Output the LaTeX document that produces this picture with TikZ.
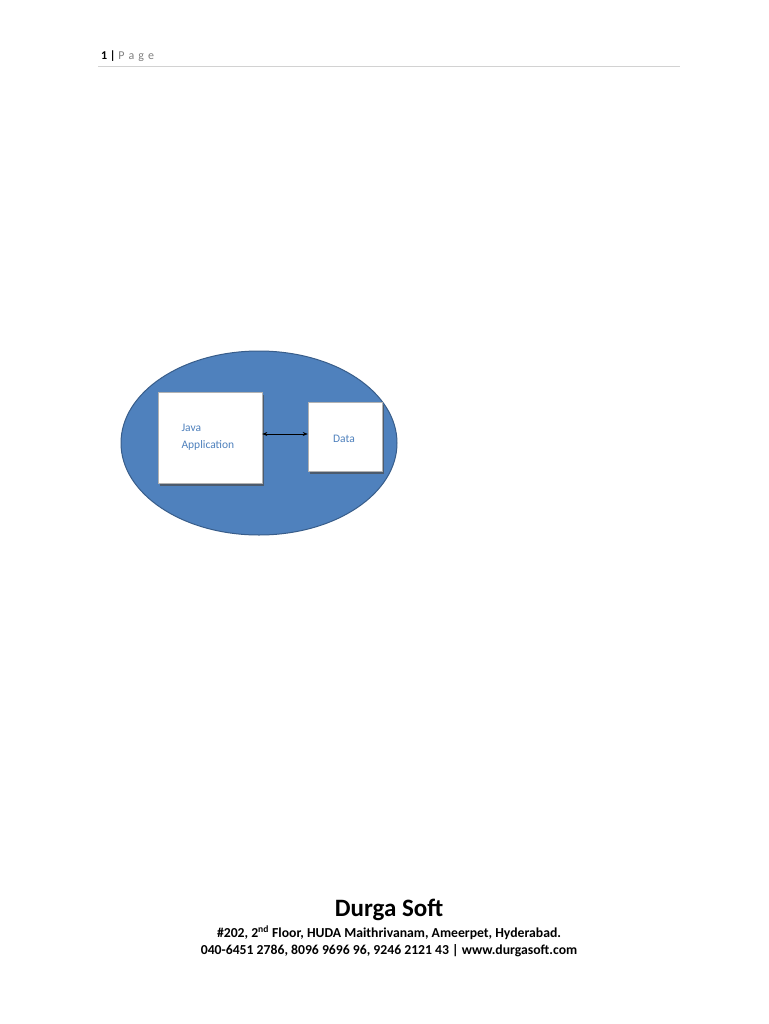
\documentclass[tikz,border=0pt]{standalone}
\usepackage{fontspec}
\setmainfont{Carlito}
\usetikzlibrary{shadows,arrows.meta,shapes.geometric}
\definecolor{ovalblue}{HTML}{4F81BD}
\definecolor{ovaledge}{HTML}{385D8A}
\definecolor{textblue}{HTML}{4F81BD}
\tikzset{
  whitebox/.style={draw=gray!60,fill=white,line width=0.6pt,
    drop shadow={shadow xshift=2pt,shadow yshift=-2.5pt,fill=black!70,opacity=0.7}},
  boxtext/.style={textblue,font=\fontsize{11.5}{17}\selectfont,align=left,anchor=west}
}
\begin{document}
\begin{tikzpicture}[x=1pt,y=-1pt]
      \useasboundingbox[fill=white] (0,0) rectangle (768,1024);
      % header
      \node[anchor=base west,inner sep=0pt,font=\fontsize{12}{14}\selectfont] (pagenum) at (101,60)
        {\textbf{1 |} \textcolor{gray}{P\,\,a\,\,g\,\,e}};
      \coordinate (ruleleft) at (98,66);
      \coordinate (ruleright) at (680,66);
      \draw[gray!35,line width=0.8pt] (ruleleft) -- (ruleright);
      % oval with the two boxes
      \node[ellipse,draw=ovaledge,fill=ovalblue,line width=1pt,minimum width=276,minimum height=184,inner sep=0pt] (oval) at (259,443) {};
      \node[whitebox,minimum width=104,minimum height=91,inner sep=0pt] (javaapp) at (210,437.5) {};
      \node[boxtext] (javalabel) at (178,437) {Java\\Application};
      \node[whitebox,minimum width=74,minimum height=69,inner sep=0pt] (data) at (345,436.5) {};
      \node[textblue,font=\fontsize{11.5}{14}\selectfont] (datalabel) at (344,439) {Data};
      \draw[{Stealth[length=5pt,width=4pt]}-{Stealth[length=5pt,width=4pt]},line width=0.5pt] (javaapp.east |- 0,434) -- (data.west |- 0,434);
      % footer
      \node[font=\bfseries\fontsize{25}{30}\selectfont] (company) at (389,910) {Durga Soft};
      \node[font=\bfseries\fontsize{13.7}{16}\selectfont] (address) at (389,933)
        {\#202, 2\textsuperscript{nd} Floor, HUDA Maithrivanam, Ameerpet, Hyderabad.};
      \node[font=\bfseries\fontsize{13.7}{16}\selectfont] (phones) at (389,951)
        {040-6451 2786, 8096 9696 96, 9246 2121 43 | www.durgasoft.com};
\end{tikzpicture}
\end{document}
